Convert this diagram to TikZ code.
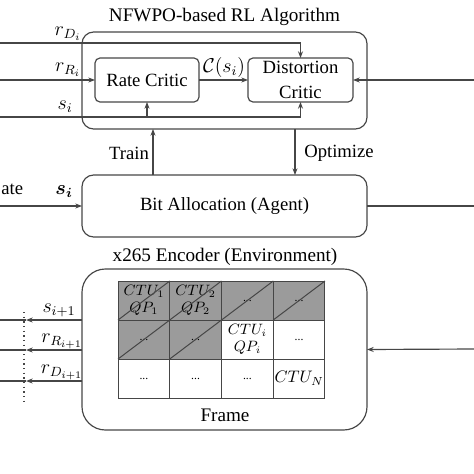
\documentclass[tikz,border=0pt]{standalone}
\usepackage{fontspec}
\usepackage{amsmath}
\usepackage{bm}
\setmainfont{Liberation Serif}
\usetikzlibrary{arrows.meta}
\def\pxu{0.6pt}
\definecolor{lc}{RGB}{70,70,70}
\definecolor{cellgray}{RGB}{155,155,155}
\tikzset{
  rbox/.style={draw=lc, line width=0.7pt, rectangle, rounded corners=#1, inner sep=0pt, outer sep=0pt},
  lbl/.style={font=\fontsize{11.2}{12.5}\selectfont, inner sep=0pt},
  mlbl/.style={font=\fontsize{12}{13}\selectfont, inner sep=0pt},
  ttl/.style={font=\fontsize{11.5}{13}\selectfont, inner sep=0pt},
  cell/.style={draw=lc, line width=0.6pt, rectangle, inner sep=0pt, outer sep=0pt,
    minimum width=51.75*\pxu, minimum height=39*\pxu, font=\small, align=center},
  gcell/.style={cell, fill=cellgray},
  conn/.style={draw=lc, line width=0.7pt},
  arr/.style={conn, -{Stealth[length=4pt,width=3pt]}},
}
\newcommand{\celldots}{{\scriptsize ...}}
\begin{document}
\begin{tikzpicture}[x=0.6pt, y=-0.6pt]
\useasboundingbox (0,0) rectangle (474,474);
% --- RL algorithm block ---
\node[rbox=7pt, minimum width=285*\pxu, minimum height=97*\pxu] (rl) at (224.5,80.5) {};
\node[ttl] (rltitle) at (224.5,17) {NFWPO-based RL Algorithm};
\node[rbox=3pt, minimum width=104*\pxu, minimum height=44*\pxu, lbl] (rate) at (147,80) {Rate Critic};
\node[rbox=3pt, minimum width=105*\pxu, minimum height=44*\pxu, lbl, align=center] (dist) at (300.5,80) {Distortion\\[2.5pt]Critic};
% inputs
\coordinate (inD) at (0,43);
\coordinate (inR) at (0,80);
\coordinate (inS) at (0,117);
\coordinate (inRight) at (474,80);
\draw[arr] (inD) -| (dist.north);
\draw[arr] (inR) -- (rate.west);
\draw[arr] (inS) -| (dist.south);
\draw[arr] (rate.south |- inS) -- (rate.south);
\draw[arr] (rate.east) -- (dist.west);
\draw[arr] (inRight) -- (dist.east);
\node[mlbl] (lrD) at (68,34) {$r_{D_i}$};
\node[mlbl] (lrR) at (68,70) {$r_{R_i}$};
\node[mlbl] (ls) at (65,107) {$s_i$};
\node[mlbl] (lC) at (224,67) {$\mathcal{C}(s_i)$};
% --- Bit allocation ---
\node[rbox=7pt, minimum width=285*\pxu, minimum height=62*\pxu, lbl] (bit) at (224.5,206) {Bit Allocation (Agent)};
\coordinate (trainx) at (153,0);
\coordinate (optx) at (295,0);
\draw[arr] (bit.north -| trainx) -- (rl.south -| trainx);
\draw[arr] (rl.south -| optx) -- (bit.north -| optx);
\node[lbl] (ltrain) at (129,153) {Train};
\node[lbl] (lopt) at (339,153) {Optimize};
\coordinate (inB) at (0,206);
\coordinate (outB) at (474,206);
\draw[arr] (inB) -- (bit.west);
\draw[conn] (bit.east) -- (outB);
\node[mlbl] (lsb) at (64,192) {$\bm{s_i}$};
\node[lbl, anchor=west] (late) at (1,189) {ate};
% --- Encoder ---
\node[rbox=14pt, minimum width=285*\pxu, minimum height=161*\pxu] (enc) at (224.5,349.5) {};
\node[ttl] (enctitle) at (225,257) {x265 Encoder (Environment)};
\node[lbl, font=\fontsize{11.5}{13}\selectfont] (frame) at (225,415) {Frame};
% grid
\node[gcell] (c11) at (143.9,300.5) {$CTU_1$\\[-1pt]$QP_1$};
\node[gcell] (c12) at (195.6,300.5) {$CTU_2$\\[-1pt]$QP_2$};
\node[gcell] (c13) at (247.4,300.5) {\celldots};
\node[gcell] (c14) at (299.1,300.5) {\celldots};
\node[gcell] (c21) at (143.9,339.5) {\celldots};
\node[gcell] (c22) at (195.6,339.5) {\celldots};
\node[cell] (c23) at (247.4,339.5) {$CTU_i$\\[-1pt]$QP_i$};
\node[cell] (c24) at (299.1,339.5) {\celldots};
\node[cell] (c31) at (143.9,378.5) {\celldots};
\node[cell] (c32) at (195.6,378.5) {\celldots};
\node[cell] (c33) at (247.4,378.5) {\celldots};
\node[cell, font=\normalsize] (c34) at (299.1,378.5) {$CTU_N$};
\foreach \c in {c11,c12,c13,c14,c21,c22}{
  \draw[lc, line width=0.6pt] (\c.south west) -- (\c.north east);
}
% outputs
\coordinate (o1) at (0,320);
\coordinate (o2) at (0,350);
\coordinate (o3) at (0,381);
\coordinate (d1) at (26,320);
\coordinate (d2) at (26,350);
\coordinate (d3) at (26,381);
\draw[arr] (enc.west |- o1) -- (d1);
\draw[conn] (d1) -- (o1);
\draw[arr] (enc.west |- o2) -- (d2);
\draw[conn] (d2) -- (o2);
\draw[arr] (enc.west |- o3) -- (d3);
\draw[conn] (d3) -- (o3);
\coordinate (dt) at (24,312);
\coordinate (db) at (24,402);
\draw[lc, line width=0.8pt, dotted] (dt) -- (db);
\node[mlbl] (ls1) at (59,310) {$s_{i+1}$};
\node[mlbl] (lr1) at (62,341) {$r_{R_{i+1}}$};
\node[mlbl] (ld1) at (62,372) {$r_{D_{i+1}}$};
\coordinate (inE) at (474,349);
\draw[arr] (inE) -- (enc.east);
\end{tikzpicture}
\end{document}
